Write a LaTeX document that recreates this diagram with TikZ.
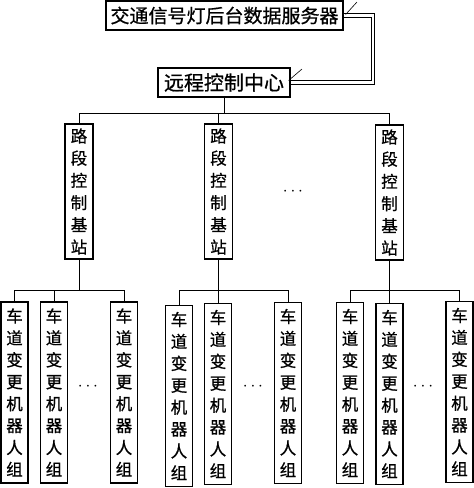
\documentclass[tikz,border=0pt]{standalone}
\usepackage{fontspec}
\newfontfamily\cjk[FakeBold=0.8]{Noto Sans CJK SC}
\usetikzlibrary{calc}

\tikzset{
    box/.style={draw, line width=1.2pt, inner sep=0pt, align=center},
    stbox/.style={box, minimum width=28pt, minimum height=135pt, font=\cjk\fontsize{16.5pt}{22.2pt}\selectfont},
    grbox/.style={box, minimum width=27pt, minimum height=181pt, font=\cjk\fontsize{16.5pt}{21.9pt}\selectfont},
    link/.style={line width=0.9pt},
    dots/.style={font=\fontsize{16pt}{16pt}\selectfont}
}
\newcommand{\grtext}{车\\道\\变\\更\\机\\器\\人\\组}

\begin{document}
\begin{tikzpicture}[x=1pt, y=-1pt]
    \useasboundingbox (0,0) rectangle (474,488);
    \node [box, minimum width=237pt, minimum height=29pt, font=\cjk\fontsize{19pt}{19pt}\selectfont] (srv) at (224.5,15.5) {交通信号灯后台数据服务器};
    \node [box, minimum width=132pt, minimum height=29pt, font=\cjk\fontsize{20pt}{20pt}\selectfont] (rc) at (224,82.5) {远程控制中心};
    \coordinate (lk) at (373,0);
    \draw [double, double distance=2.6pt, line width=0.9pt] (srv.east) -- (srv.east -| lk) |- (rc.east);
    % leader ticks
    \coordinate (t1) at (357,2);
    \coordinate (t2) at (302,69);
    \draw [line width=0.6pt] ($(srv.east)+(2,-1)$) -- (t1);
    \draw [line width=0.6pt] ($(rc.east)+(-2,-2)$) -- (t2);

    % road section stations
    \node [stbox] (st1) at (79,191.5) {路\\段\\控\\制\\基\\站};
    \node [stbox] (st2) at (218.5,191.5) {路\\段\\控\\制\\基\\站};
    \node [stbox] (st3) at (389.5,192.5) {路\\段\\控\\制\\基\\站};
    \node [dots] (sd) at (293,192) {$\cdots$};
    \coordinate (bus) at (0,113);
    \draw [link] (rc.south) -- (rc.south |- bus);
    \draw [link] (st1.north) |- (st3.north |- bus) -- (st3.north);
    \draw [link] (st2.north) -- (st2.north |- bus);

    % robot groups
    \node [grbox] (g1a) at (14.5,392.5) {\grtext};
    \node [grbox] (g1b) at (54,392.5) {\grtext};
    \node [grbox] (g1c) at (124,392.5) {\grtext};
    \node [grbox] (g2a) at (179,396) {\grtext};
    \node [grbox] (g2b) at (218,394) {\grtext};
    \node [grbox] (g2c) at (288,393) {\grtext};
    \node [grbox] (g3a) at (350,393) {\grtext};
    \node [grbox] (g3b) at (389.5,394) {\grtext};
    \node [grbox] (g3c) at (459.5,392) {\grtext};
    \node [dots] (d1) at (88,387) {$\cdots$};
    \node [dots] (d2) at (253,387) {$\cdots$};
    \node [dots] (d3) at (423,387) {$\cdots$};
    \coordinate (gbus) at (0,290);
    \draw [link] (st1.south) -- (st1.south |- gbus);
    \draw [link] (st2.south) -- (st2.south |- gbus);
    \draw [link] (st3.south) -- (st3.south |- gbus);
    \draw [link] (g1a.north) |- (g1c.north |- gbus) -- (g1c.north);
    \draw [link] (g1b.north) -- (g1b.north |- gbus);
    \draw [link] (g2a.north) |- (g2c.north |- gbus) -- (g2c.north);
    \draw [link] (g2b.north) -- (g2b.north |- gbus);
    \draw [link] (g3a.north) |- (g3c.north |- gbus) -- (g3c.north);
    \draw [link] (g3b.north) -- (g3b.north |- gbus);
\end{tikzpicture}
\end{document}
